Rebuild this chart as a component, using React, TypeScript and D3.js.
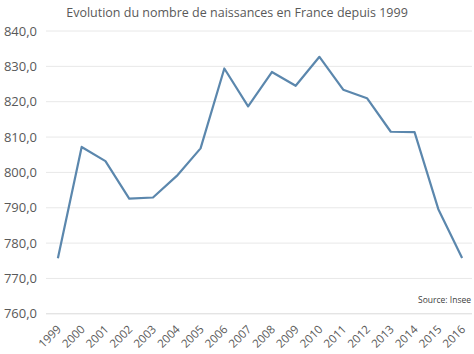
import React from "react";
import * as d3 from "d3";

const years = ["1999", "2000", "2001", "2002", "2003", "2004", "2005", "2006", "2007", "2008", "2009", "2010", "2011", "2012", "2013", "2014", "2015", "2016"];
const births = [775.7, 807.2, 803.2, 792.6, 792.9, 799.0, 806.8, 829.4, 818.7, 828.4, 824.5, 832.7, 823.4, 821.0, 811.5, 811.4, 789.6, 775.8];
const yTicks = [760, 770, 780, 790, 800, 810, 820, 830, 840];

const W = 474;
const H = 354;
const margin = { top: 31, right: 0, bottom: 40, left: 46 };

const App = () => {
  const x = d3
    .scaleBand()
    .domain(years)
    .range([margin.left, W - margin.right]);

  const y = d3
    .scaleLinear()
    .domain([760, 840])
    .range([313.8, margin.top]);

  const line = d3
    .line<number>()
    .x((_, i) => (x(years[i]) as number) + x.bandwidth() / 2)
    .y((d) => y(d));

  const fmt = (v: number) => d3.format(".1f")(v).replace(".", ",");
  const font = "'Open Sans', 'Liberation Sans', sans-serif";

  return (
    <svg width={W} height={H} style={{ position: "absolute", left: 0, top: 0, background: "#fff" }} fontFamily={font}>
      <text x={237} y={17} textAnchor="middle" fontSize={12.5} fill="#595959">
        Evolution du nombre de naissances en France depuis 1999
      </text>

      {/* grid */}
      {yTicks.map((t) => (
        <g key={t}>
          <line
            x1={margin.left}
            x2={W - 2}
            y1={y(t)}
            y2={y(t)}
            stroke={t === 760 ? "#d9d9d9" : "#e8e8e8"}
            strokeWidth={1}
          />
          <text x={37} y={y(t)} dy="0.35em" textAnchor="end" fontSize={13} fill="#595959">
            {fmt(t)}
          </text>
        </g>
      ))}

      {/* x labels */}
      {years.map((yr) => {
        const cx = (x(yr) as number) + x.bandwidth() / 2;
        return (
          <text
            key={yr}
            transform={`translate(${cx + 4},${330}) rotate(-45)`}
            textAnchor="end"
            fontSize={11.5}
            fill="#595959"
          >
            {yr}
          </text>
        );
      })}

      <path d={line(births) ?? ""} fill="none" stroke="#5b87ad" strokeWidth={2.2} strokeLinejoin="round" />

      <text x={471} y={303} textAnchor="end" fontSize={8.5} fill="#404040">
        Source: Insee
      </text>
    </svg>
  );
};

export default App;
